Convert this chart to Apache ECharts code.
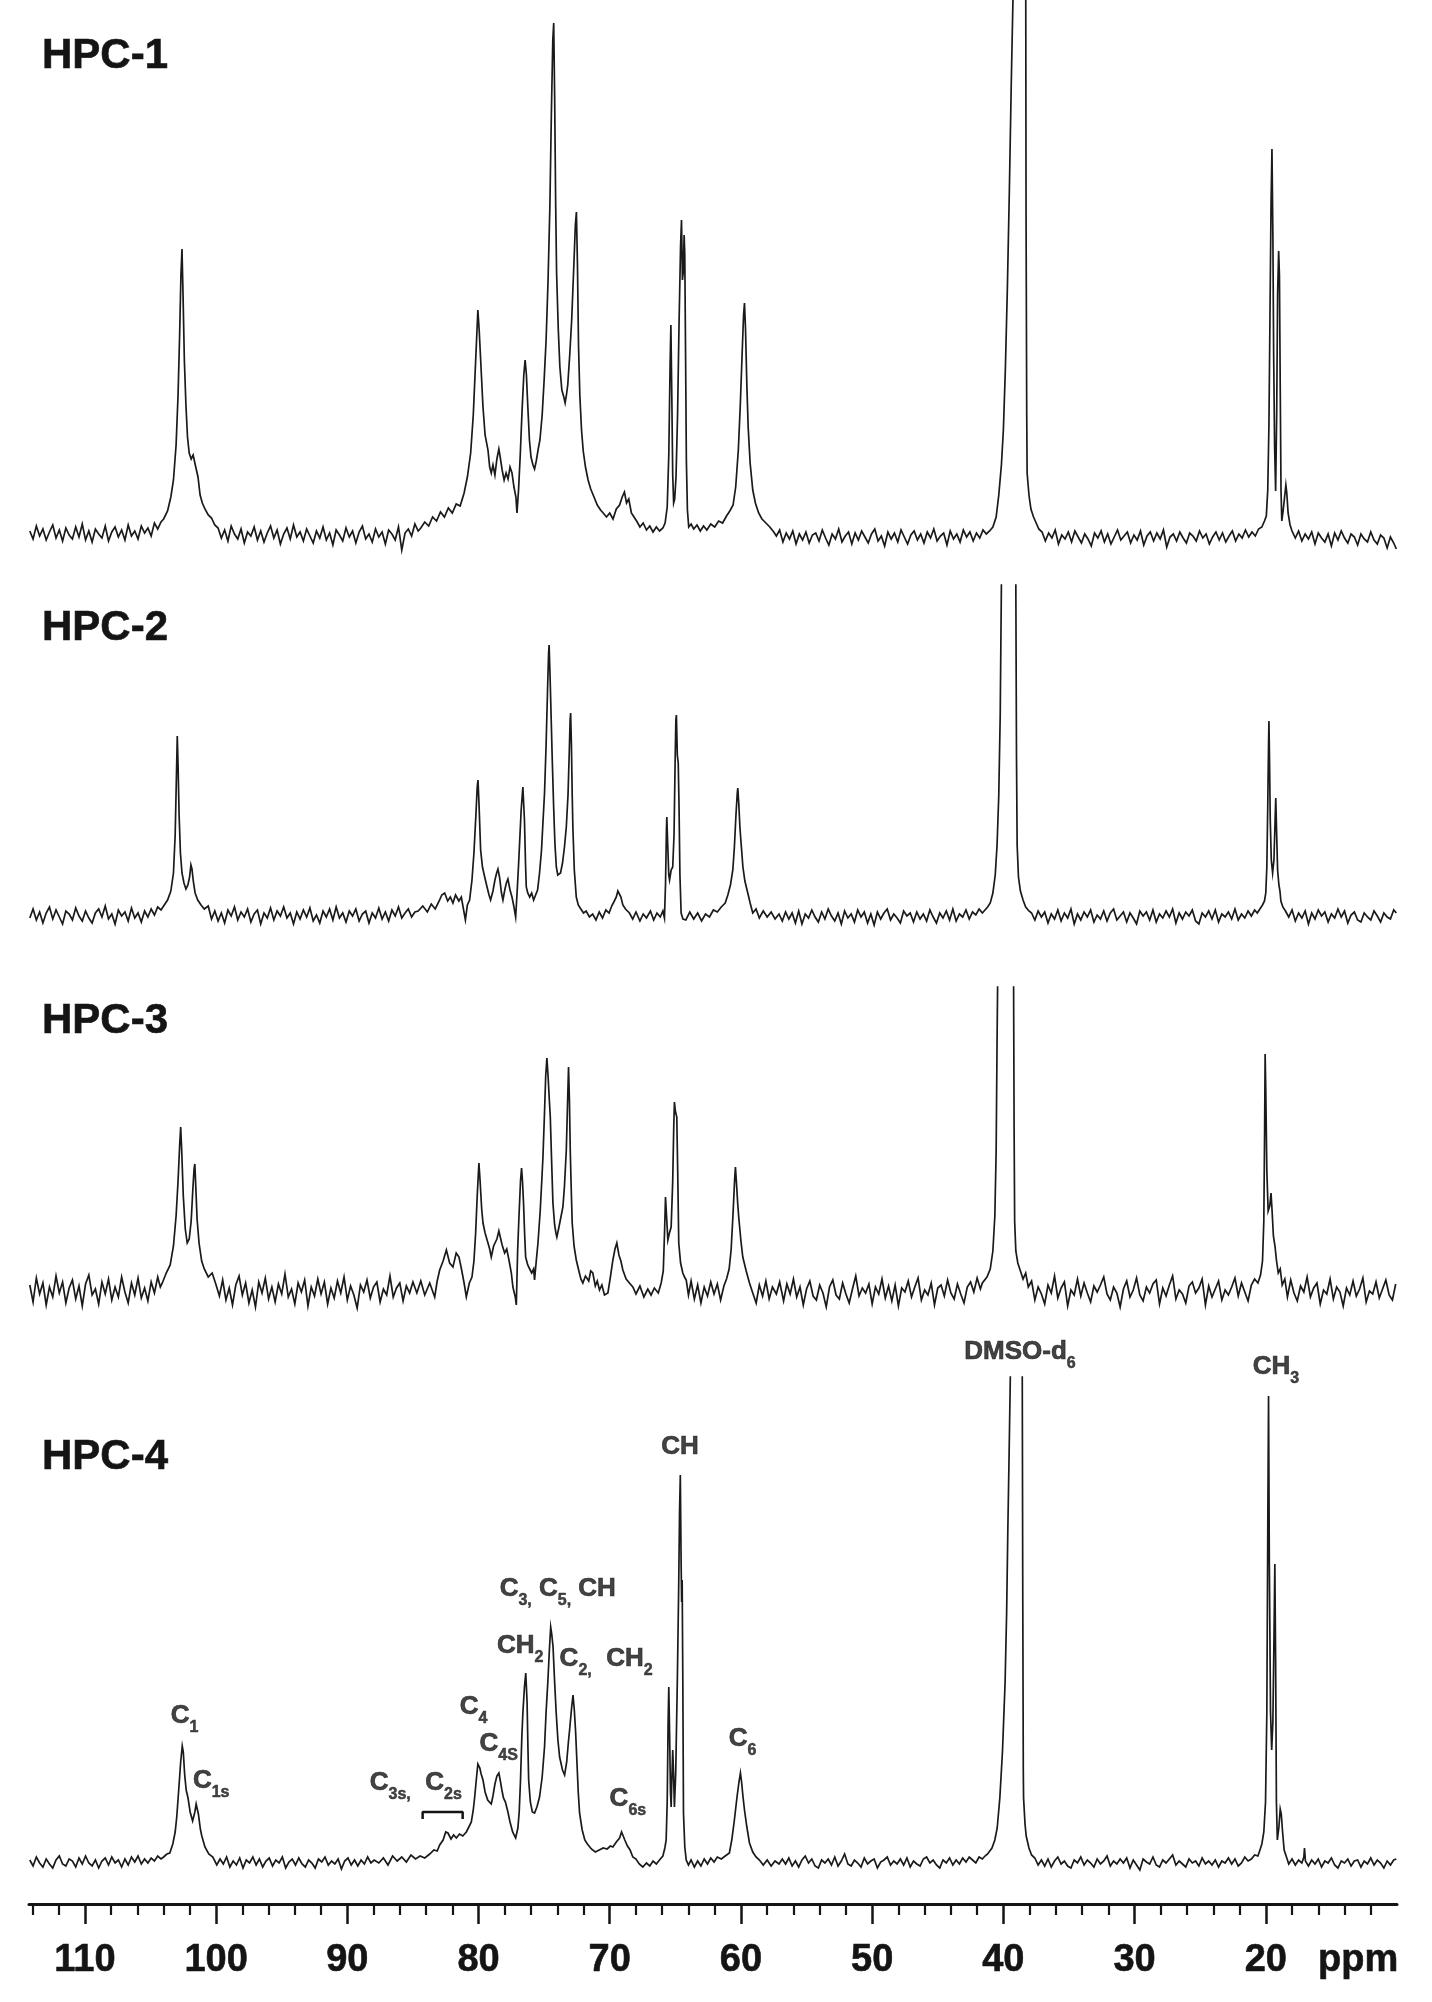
<!DOCTYPE html>
<html><head><meta charset="utf-8">
<script src="https://cdn.jsdelivr.net/npm/echarts@6/dist/echarts.min.js"></script>
<style>html,body{margin:0;padding:0;background:#fff}#c{width:1432px;height:2002px}</style>
</head><body><div id="c"></div>
<script>
// ---------- data ----------
const sampleNames = ['HPC-1', 'HPC-2', 'HPC-3', 'HPC-4'];
const majorTicks = [110, 100, 90, 80, 70, 60, 50, 40, 30, 20];
const minorTicks = [114, 112, 108, 106, 104, 102, 98, 96, 94, 92, 88, 86, 84, 82, 78, 76, 74, 72, 68, 66, 64, 62, 58, 56, 54, 52, 48, 46, 44, 42, 38, 36, 34, 32, 28, 26, 24, 22, 18, 16, 14, 12];

// [ppm, intensity (a.u.)]
const hpc1 = [
[114.2,4],[113.95,-4],[113.7,9],[113.45,-1],[113.2,6],[112.95,-5],[112.7,3],[112.45,10],[112.2,-3],[111.95,5],[111.7,-6],[111.45,7],[111.2,0],[110.95,-4],[110.7,8],[110.45,-2],[110.2,11],[109.95,-5],[109.7,4],[109.45,-7],[109.2,6],[108.95,1],[108.7,-3],[108.45,9],[108.2,-6],[107.95,3],[107.7,8],[107.45,-2],[107.2,5],[106.95,-5],[106.7,10],[106.45,-1],[106.2,4],[105.95,-4],[105.7,9],[105.45,2],[105.2,7],[104.95,-1],[104.7,12],[104.45,6],[104.2,13],
[104.0,16],[103.7,24],[103.45,38],[103.25,55],[103.05,90],[102.9,140],[102.78,200],[102.68,260],[102.6,286],[102.52,240],[102.42,175],[102.3,130],[102.18,98],[102.05,82],[101.9,76],[101.75,80],[101.62,72],[101.5,74],[101.38,58],[101.22,40],[101.05,32],[100.85,26],[100.6,20],[100.35,17],[100.1,10],
[99.85,7],[99.6,-3],[99.35,5],[99.1,-6],[98.85,9],[98.6,1],[98.35,-4],[98.1,6],[97.85,-8],[97.6,3],[97.35,-1],[97.1,8],[96.85,-5],[96.6,4],[96.35,-7],[96.1,2],[95.85,9],[95.6,-3],[95.35,5],[95.1,-9],[94.85,1],[94.6,7],[94.35,-4],[94.1,10],[93.85,-2],[93.6,3],[93.35,-6],[93.1,6],[92.85,-1],[92.6,-8],[92.35,4],[92.1,-3],[91.85,8],[91.6,-5],[91.35,2],[91.1,-10],[90.85,5],[90.6,0],[90.35,-6],[90.1,7],[89.85,-2],[89.6,4],[89.35,-8],[89.1,3],[88.85,9],[88.6,-4],[88.35,1],[88.1,-7],[87.85,6],[87.6,-2],[87.35,3],[87.1,-9],[86.85,5],[86.6,1],[86.35,-5],[86.1,8],[85.85,-15],[85.6,2],[85.35,6],[85.1,-1],[84.85,11],[84.6,4],
[84.4,7],[84.1,13],[83.8,9],[83.5,18],[83.2,14],[82.9,23],[82.6,18],[82.3,27],[82.0,22],[81.7,31],[81.4,29],[81.1,42],[80.85,58],[80.6,82],[80.4,120],[80.2,180],[80.05,225],[79.95,205],[79.8,165],[79.66,128],[79.5,100],[79.28,85],[79.15,68],[79.03,62],[78.9,70],[78.75,60],[78.6,76],[78.45,86],[78.35,78],[78.2,65],[78.05,55],[77.9,62],[77.75,56],[77.6,68],[77.45,62],[77.3,48],[77.15,38],[77.07,22],[76.95,45],[76.82,80],[76.68,125],[76.55,160],[76.45,175],[76.35,160],[76.25,130],[76.12,95],[76.0,78],[75.85,70],[75.73,66],[75.6,74],[75.45,86],[75.32,95],[75.15,120],[75.0,155],[74.85,195],[74.7,255],[74.56,330],[74.45,420],[74.34,495],[74.27,512],[74.2,440],[74.12,330],[74.05,262],[73.92,205],[73.8,168],[73.65,145],[73.5,138],[73.4,132],[73.3,140],[73.2,150],[73.05,180],[72.9,215],[72.75,265],[72.62,310],[72.54,323],[72.46,270],[72.38,190],[72.28,140],[72.15,105],[72.02,84],[71.85,68],[71.65,55],[71.45,46],[71.2,38],[70.95,30],[70.7,25],[70.5,22],[70.25,18],[70.0,22],[69.75,16],[69.5,26],[69.25,30],[69.05,38],[68.88,43],[68.72,32],[68.55,36],[68.35,22],[68.15,18],[67.95,14],[67.7,8],[67.45,12],[67.2,5],[66.95,9],[66.7,3],[66.45,8],[66.2,4],[65.95,7],[65.78,12],[65.62,28],[65.5,80],[65.4,170],[65.34,210],[65.27,140],[65.2,60],[65.13,32],[65.05,36],[64.95,58],[64.83,120],[64.72,210],[64.6,290],[64.53,315],[64.46,255],[64.4,262],[64.33,300],[64.28,280],[64.22,180],[64.16,75],[64.08,25],[63.98,8],[63.8,11],[63.6,6],[63.35,10],[63.1,4],[62.85,9],[62.6,5],[62.3,11],[62.0,8],[61.7,14],[61.4,12],[61.1,19],[60.85,24],[60.6,30],[60.4,48],[60.2,85],[60.05,130],[59.9,185],[59.8,220],[59.73,232],[59.65,205],[59.55,150],[59.45,108],[59.3,72],[59.1,45],[58.9,32],[58.65,22],[58.4,16],[58.1,12],[57.8,8],[57.5,3],
[57.3,-1],[57.05,5],[56.8,-7],[56.55,2],[56.3,-4],[56.05,4],[55.8,-9],[55.55,1],[55.3,-5],[55.05,3],[54.8,-8],[54.55,0],[54.3,2],[54.05,-6],[53.8,5],[53.55,-3],[53.3,-10],[53.05,1],[52.8,-4],[52.55,6],[52.3,-7],[52.05,-1],[51.8,3],[51.55,-9],[51.3,2],[51.05,-5],[50.8,4],[50.55,-2],[50.3,-8],[50.05,1],[49.8,6],[49.55,-6],[49.3,-1],[49.05,-11],[48.8,3],[48.55,-4],[48.3,2],[48.05,-7],[47.8,5],[47.55,-2],[47.3,-9],[47.05,0],[46.8,4],[46.55,-5],[46.3,1],[46.05,-8],[45.8,3],[45.55,-3],[45.3,6],[45.05,-6],[44.8,-1],[44.55,2],[44.3,-10],[44.05,4],[43.8,-4],[43.55,1],[43.3,-7],[43.05,5],[42.8,-2],[42.55,3],[42.3,-6],[42.05,2],[41.8,-3],[41.55,5],[41.3,1],[41.05,4],
[40.8,8],[40.55,18],[40.35,40],[40.15,70],[40.0,105],[39.85,165],[39.7,244],[39.55,340],[39.4,450],[39.27,535],[39.1,750],[38.8,950],[38.5,800],[38.3,600],[38.27,317],[38.22,120],[38.19,62],[38.05,40],[37.9,26],[37.7,18],[37.5,12],[37.3,6],
[37.05,3],[36.8,-6],[36.55,2],[36.3,-3],[36.05,5],[35.8,-9],[35.55,0],[35.3,-4],[35.05,3],[34.8,-7],[34.55,4],[34.3,-2],[34.05,-8],[33.8,1],[33.55,-4],[33.3,-11],[33.05,2],[32.8,-3],[32.55,4],[32.3,-7],[32.05,1],[31.8,-9],[31.55,-2],[31.3,5],[31.05,-5],[30.8,-1],[30.55,3],[30.3,-8],[30.05,0],[29.8,-5],[29.55,4],[29.3,-10],[29.05,-1],[28.8,3],[28.55,-6],[28.3,2],[28.05,-4],[27.8,5],[27.55,-12],[27.3,-2],[27.05,1],[26.8,-6],[26.55,3],[26.3,-3],[26.05,-8],[25.8,2],[25.55,-1],[25.3,-6],[25.05,4],[24.8,-3],[24.55,1],[24.3,-9],[24.05,-2],[23.8,3],[23.55,-5],[23.3,2],[23.05,-7],[22.8,-1],[22.55,4],[22.3,-6],[22.05,1],[21.8,-3],[21.55,5],[21.3,-2],[21.05,3],[20.8,-1],[20.55,6],
[20.3,8],[20.1,14],[19.96,19],[19.85,45],[19.76,110],[19.68,220],[19.6,330],[19.53,386],[19.46,300],[19.4,180],[19.33,90],[19.25,44],[19.17,120],[19.1,240],[19.02,284],[18.96,260],[18.9,150],[18.84,45],[18.78,14],[18.68,24],[18.55,40],[18.47,50],[18.4,42],[18.3,22],[18.15,10],[18.0,4],
[17.75,-3],[17.5,4],[17.25,-6],[17.0,1],[16.75,-4],[16.5,3],[16.25,-9],[16.0,2],[15.75,-3],[15.5,-7],[15.25,1],[15.0,-11],[14.75,2],[14.5,-5],[14.25,4],[14.0,-3],[13.75,-8],[13.5,1],[13.25,-2],[13.0,-10],[12.75,1],[12.5,-4],[12.25,-7],[12.0,3],[11.75,-5],[11.5,-9],[11.25,0],[11.0,-3],[10.75,-13],[10.5,-2],[10.25,-8],[10.05,-14]
];

const hpc2 = [
[114.2,-3],[113.95,6],[113.7,-5],[113.45,3],[113.2,-8],[112.95,2],[112.7,8],[112.45,-4],[112.2,5],[111.95,-2],[111.7,-9],[111.45,4],[111.2,1],[110.95,-5],[110.7,7],[110.45,-1],[110.2,-6],[109.95,4],[109.7,-3],[109.45,-8],[109.2,2],[108.95,6],[108.7,-2],[108.45,9],[108.2,-4],[107.95,1],[107.7,-9],[107.45,5],[107.2,-1],[106.95,3],[106.7,-6],[106.45,7],[106.2,-3],[105.95,2],[105.7,-7],[105.45,4],[105.2,-2],[104.95,6],[104.7,0],[104.45,8],[104.2,5],
[104.0,9],[103.7,15],[103.45,24],[103.25,42],[103.12,80],[103.03,135],[102.96,179],[102.9,150],[102.82,100],[102.72,62],[102.6,42],[102.45,32],[102.3,26],[102.15,30],[102.02,38],[101.92,50],[101.84,46],[101.74,34],[101.6,22],[101.4,15],[101.15,10],[100.9,6],[100.6,9],
[100.35,-4],[100.1,4],[99.85,-6],[99.6,2],[99.35,-8],[99.1,5],[98.85,-1],[98.6,8],[98.35,-5],[98.1,3],[97.85,-2],[97.6,6],[97.35,-7],[97.1,1],[96.85,5],[96.6,-9],[96.35,2],[96.1,-3],[95.85,7],[95.6,-5],[95.35,4],[95.1,-1],[94.85,8],[94.6,-3],[94.35,2],[94.1,-9],[93.85,3],[93.6,-4],[93.35,5],[93.1,-2],[92.85,7],[92.6,-6],[92.35,0],[92.1,-8],[91.85,4],[91.6,-2],[91.35,6],[91.1,-5],[90.85,8],[90.6,-3],[90.35,2],[90.1,-7],[89.85,4],[89.6,-1],[89.35,6],[89.1,-6],[88.85,1],[88.6,4],[88.35,-8],[88.1,2],[87.85,-3],[87.6,7],[87.35,-4],[87.1,3],[86.85,-6],[86.6,5],[86.35,-1],[86.1,8],[85.85,-3],[85.6,2],[85.35,6],[85.1,-2],[84.85,3],
[84.6,4],[84.25,9],[83.9,3],[83.6,11],[83.3,6],[83.0,14],[82.8,20],[82.58,22],[82.35,14],[82.15,18],[81.95,12],[81.75,20],[81.5,14],[81.31,18],[81.15,6],[81.0,-5],[80.85,10],[80.68,15],[80.5,35],[80.35,62],[80.2,100],[80.1,128],[80.04,135],[79.96,110],[79.84,65],[79.7,48],[79.53,38],[79.35,28],[79.2,20],[79.08,15],[78.9,24],[78.75,35],[78.62,42],[78.52,46],[78.4,38],[78.25,22],[78.14,15],[78.0,25],[77.88,32],[77.76,36],[77.6,25],[77.45,18],[77.3,8],[77.17,-2],[77.05,25],[76.95,50],[76.87,72],[76.75,105],[76.62,128],[76.57,130],[76.5,95],[76.42,52],[76.36,28],[76.25,22],[76.1,18],[75.95,22],[75.8,15],[75.65,20],[75.5,25],[75.35,42],[75.2,65],[75.08,95],[74.97,122],[74.85,170],[74.74,225],[74.66,262],[74.62,270],[74.55,240],[74.45,190],[74.38,155],[74.28,110],[74.18,72],[74.07,48],[73.96,40],[73.87,38],[73.75,42],[73.6,52],[73.45,68],[73.31,88],[73.18,120],[73.08,165],[73.02,195],[72.98,202],[72.92,170],[72.86,120],[72.81,88],[72.7,45],[72.55,18],[72.4,10],[72.2,6],[72.0,2],[71.8,4],[71.55,-2],[71.3,1],[71.05,-5],[70.8,3],[70.55,-3],[70.3,5],[70.05,2],[69.85,9],[69.65,14],[69.5,18],[69.38,24],[69.3,23],[69.15,18],[69.0,10],[68.8,6],[68.5,2],[68.25,-4],[68.0,3],[67.7,-6],[67.45,1],[67.2,-3],[66.9,4],[66.65,-5],[66.4,2],[66.15,-2],[65.95,4],[65.83,-3],[65.75,30],[65.68,85],[65.65,98],[65.58,70],[65.5,40],[65.44,35],[65.32,45],[65.2,48],[65.1,80],[65.02,150],[64.96,195],[64.92,200],[64.85,160],[64.78,152],[64.72,110],[64.65,40],[64.56,2],[64.42,-4],[64.2,-5],[63.9,3],[63.6,-4],[63.3,2],[63.0,-6],[62.7,1],[62.4,-2],[62.1,5],[61.8,3],[61.5,8],[61.2,12],[61.0,20],[60.8,30],[60.62,45],[60.5,68],[60.38,100],[60.28,122],[60.24,127],[60.16,110],[60.08,88],[59.99,72],[59.85,48],[59.7,34],[59.48,22],[59.3,12],[59.1,2],[58.85,6],[58.6,-3],[58.3,4],[58.0,-2],[57.7,3],[57.4,-4],[57.1,1],
[56.85,-6],[56.6,3],[56.35,-4],[56.1,2],[55.85,-8],[55.6,4],[55.35,-9],[55.1,1],[54.85,-3],[54.6,5],[54.35,-2],[54.1,-7],[53.85,3],[53.6,-4],[53.35,6],[53.1,-1],[52.85,-6],[52.6,2],[52.35,-9],[52.1,4],[51.85,-3],[51.6,1],[51.35,-7],[51.1,5],[50.85,-2],[50.6,3],[50.35,-8],[50.1,1],[49.85,-10],[49.6,3],[49.35,-4],[49.1,2],[48.85,6],[48.6,-5],[48.35,1],[48.1,-3],[47.85,-8],[47.6,4],[47.35,-1],[47.1,2],[46.85,-7],[46.6,3],[46.35,-4],[46.1,1],[45.85,-6],[45.6,5],[45.35,-2],[45.1,-8],[44.85,2],[44.6,-3],[44.35,4],[44.1,-5],[43.85,6],[43.6,-6],[43.35,1],[43.1,-2],[42.85,5],[42.6,-4],[42.35,3],[42.1,0],[41.85,6],[41.6,2],[41.4,5],
[41.2,8],[41.0,12],[40.8,22],[40.62,40],[40.48,70],[40.35,120],[40.24,200],[40.15,330],[40.0,560],[39.6,800],[39.2,560],[39.05,330],[39.0,160],[38.95,70],[38.85,38],[38.7,24],[38.5,15],[38.3,8],[38.05,4],
[37.85,2],[37.6,-5],[37.35,4],[37.1,-2],[36.85,3],[36.6,-8],[36.35,1],[36.1,-4],[35.85,5],[35.6,-6],[35.35,2],[35.1,-3],[34.85,6],[34.6,-9],[34.35,1],[34.1,-5],[33.85,3],[33.6,-2],[33.35,5],[33.1,-7],[32.85,0],[32.6,-4],[32.35,4],[32.1,-6],[31.85,2],[31.6,6],[31.35,-5],[31.1,-1],[30.85,3],[30.6,-7],[30.35,2],[30.1,-3],[29.85,-9],[29.6,4],[29.35,-1],[29.1,3],[28.85,-5],[28.6,5],[28.35,-7],[28.1,1],[27.85,-3],[27.6,4],[27.35,-2],[27.1,6],[26.85,-8],[26.6,2],[26.35,-4],[26.1,3],[25.85,-1],[25.6,5],[25.35,-6],[25.1,-9],[24.85,2],[24.6,-2],[24.35,4],[24.1,-4],[23.85,5],[23.6,-7],[23.35,1],[23.1,-2],[22.85,3],[22.6,-4],[22.35,6],[22.1,-5],[21.85,1],[21.6,-3],[21.35,4],[21.1,-1],[20.85,5],[20.65,2],
[20.45,6],[20.25,10],[20.1,14],[20.0,22],[19.92,48],[19.85,110],[19.79,170],[19.76,194],[19.72,160],[19.66,95],[19.58,55],[19.48,42],[19.38,55],[19.3,90],[19.24,117],[19.18,85],[19.1,45],[19.0,30],[18.92,24],[18.85,14],[18.7,8],[18.5,4],
[18.25,-2],[18.0,5],[17.75,-6],[17.5,2],[17.25,-3],[17.0,4],[16.75,-9],[16.5,2],[16.25,-4],[16.0,5],[15.75,-1],[15.5,3],[15.25,-7],[15.0,1],[14.75,-3],[14.5,6],[14.25,-2],[14.0,4],[13.75,-8],[13.5,0],[13.25,3],[13.0,-5],[12.75,-7],[12.5,2],[12.25,-2],[12.0,-5],[11.75,4],[11.5,-1],[11.25,-7],[11.0,2],[10.75,-2],[10.5,-4],[10.25,5],[10.05,2]
];

const hpc3 = [
[114.2,6],[113.95,-11],[113.7,13],[113.45,-3],[113.2,8],[112.95,-14],[112.7,4],[112.45,-6],[112.2,15],[111.95,-2],[111.7,9],[111.45,-12],[111.2,3],[110.95,11],[110.7,-8],[110.45,5],[110.2,-15],[109.95,7],[109.7,16],[109.45,-4],[109.2,2],[108.95,-13],[108.7,9],[108.45,-3],[108.2,12],[107.95,-9],[107.7,4],[107.45,-6],[107.2,14],[106.95,-1],[106.7,-12],[106.45,8],[106.2,-4],[105.95,13],[105.7,-7],[105.45,3],[105.2,-10],[104.95,9],[104.7,-2],[104.45,14],[104.25,4],
[104.1,8],[103.8,18],[103.5,26],[103.25,45],[103.05,75],[102.9,110],[102.78,145],[102.7,164],[102.62,140],[102.5,95],[102.35,62],[102.2,48],[102.05,52],[101.9,70],[101.78,100],[101.68,122],[101.62,127],[101.55,105],[101.45,72],[101.3,48],[101.1,30],[100.9,22],[100.6,14],[100.3,18],[100.0,6],
[99.75,-5],[99.5,11],[99.25,-9],[99.0,3],[98.75,-14],[98.5,6],[98.25,15],[98.0,-4],[97.75,8],[97.5,-12],[97.25,1],[97.0,-16],[96.75,9],[96.5,-2],[96.25,13],[96.0,-8],[95.75,4],[95.5,-11],[95.25,7],[95.0,-3],[94.75,17],[94.5,-6],[94.25,2],[94.0,-13],[93.75,8],[93.5,-1],[93.25,11],[93.0,-15],[92.75,4],[92.5,-5],[92.25,12],[92.0,-3],[91.75,9],[91.5,-13],[91.25,3],[91.0,-7],[90.75,10],[90.5,-2],[90.25,14],[90.0,-9],[89.75,5],[89.5,-4],[89.25,-17],[89.0,6],[88.75,-1],[88.5,11],[88.25,-7],[88.0,4],[87.75,9],[87.5,-11],[87.25,2],[87.0,-4],[86.75,15],[86.5,-6],[86.25,3],[86.0,8],[85.75,-10],[85.5,5],[85.25,-2],[85.0,9],
[84.7,-2],[84.4,10],[84.1,-4],[83.72,8],[83.34,-6],[83.15,10],[82.96,21],[82.7,30],[82.45,41],[82.2,28],[81.95,24],[81.7,38],[81.49,34],[81.3,22],[81.1,8],[80.93,-6],[80.7,8],[80.5,14],[80.35,30],[80.22,58],[80.1,95],[79.97,128],[79.88,110],[79.76,82],[79.66,68],[79.5,58],[79.28,48],[79.15,42],[79.03,34],[78.85,45],[78.6,52],[78.45,60],[78.34,58],[78.2,46],[78.01,38],[77.85,42],[77.68,31],[77.5,18],[77.38,4],[77.2,-6],[77.12,-14],[77.02,40],[76.92,74],[76.8,110],[76.72,123],[76.65,110],[76.57,88],[76.48,55],[76.41,34],[76.25,26],[76.11,28],[75.95,18],[75.8,22],[75.73,11],[75.6,30],[75.47,48],[75.3,80],[75.18,110],[75.09,134],[74.98,175],[74.88,215],[74.79,233],[74.7,215],[74.6,190],[74.53,174],[74.43,130],[74.33,88],[74.2,66],[74.1,58],[74.03,54],[73.9,62],[73.75,72],[73.57,84],[73.45,105],[73.31,141],[73.2,195],[73.14,224],[73.07,190],[73.01,141],[72.93,100],[72.86,68],[72.72,45],[72.55,31],[72.35,20],[72.2,12],[72.05,8],[71.85,15],[71.6,10],[71.45,20],[71.29,18],[71.1,5],[70.95,10],[70.78,1],[70.6,6],[70.4,-4],[70.14,-2],[69.95,14],[69.76,31],[69.6,42],[69.46,48],[69.3,36],[69.15,30],[69.0,21],[68.75,12],[68.5,8],[68.24,4],[68.0,-3],[67.7,5],[67.4,-6],[67.1,2],[66.85,-4],[66.6,3],[66.3,-2],[66.08,8],[65.92,20],[65.82,60],[65.75,94],[65.67,75],[65.57,51],[65.45,58],[65.32,64],[65.2,110],[65.12,165],[65.07,189],[65.0,180],[64.89,174],[64.82,120],[64.74,48],[64.6,28],[64.43,18],[64.3,14],[64.17,11],[64.0,-4],[63.8,10],[63.55,-8],[63.3,6],[63.05,-12],[62.8,4],[62.55,-5],[62.3,9],[62.05,-3],[61.8,7],[61.55,-9],[61.3,5],[61.1,12],[60.9,22],[60.75,41],[60.6,78],[60.48,112],[60.42,124],[60.35,110],[60.25,88],[60.17,74],[60.0,50],[59.86,34],[59.6,20],[59.35,8],[59.1,-2],[58.84,-12],[58.6,6],[58.35,-5],[58.1,10],[57.85,-8],[57.6,4],[57.3,-3],[57.05,9],
[56.75,-10],[56.5,7],[56.25,-3],[56.0,12],[55.75,-6],[55.5,4],[55.25,-14],[55.0,2],[54.75,10],[54.5,-5],[54.25,-9],[54.0,6],[53.75,-2],[53.5,-16],[53.25,4],[53.0,11],[52.75,-4],[52.5,-8],[52.25,8],[52.0,-3],[51.75,-12],[51.5,2],[51.25,15],[51.0,-5],[50.75,3],[50.5,-2],[50.25,7],[50.0,-13],[49.75,4],[49.5,-3],[49.25,12],[49.0,-7],[48.75,5],[48.5,-10],[48.25,6],[48.0,-15],[47.75,3],[47.5,-1],[47.25,10],[47.0,-6],[46.75,4],[46.5,13],[46.25,-9],[46.0,1],[45.75,-4],[45.5,8],[45.25,-14],[45.0,3],[44.75,6],[44.5,-5],[44.25,11],[44.0,-2],[43.75,-8],[43.5,7],[43.25,-3],[43.0,-12],[42.75,4],[42.5,9],[42.25,-1],[42.0,13],[41.75,2],[41.6,8],
[41.5,6],[41.25,14],[41.0,22],[40.8,40],[40.65,75],[40.55,140],[40.48,250],[40.44,304],[40.3,500],[39.8,700],[39.4,500],[39.22,304],[39.18,160],[39.14,70],[39.05,40],[38.9,28],[38.7,20],[38.5,12],[38.3,18],[38.1,4],
[37.85,10],[37.6,-9],[37.35,4],[37.1,-3],[36.85,-13],[36.6,6],[36.35,-2],[36.1,15],[35.85,-7],[35.6,3],[35.35,9],[35.1,-15],[34.85,1],[34.6,-4],[34.35,12],[34.1,-5],[33.85,8],[33.6,-2],[33.35,-11],[33.1,5],[32.85,-1],[32.6,6],[32.35,14],[32.1,-3],[31.85,-9],[31.6,4],[31.35,-2],[31.1,-16],[30.85,2],[30.6,10],[30.35,-6],[30.1,1],[29.85,13],[29.6,-4],[29.35,-10],[29.1,4],[28.85,-2],[28.6,7],[28.35,11],[28.1,-13],[27.85,3],[27.6,-5],[27.35,6],[27.1,15],[26.85,-8],[26.6,1],[26.35,-3],[26.1,-12],[25.85,5],[25.6,9],[25.35,-2],[25.1,3],[24.85,12],[24.6,-14],[24.35,5],[24.1,-6],[23.85,2],[23.6,10],[23.35,-9],[23.1,1],[22.85,-4],[22.6,4],[22.35,13],[22.1,-5],[21.85,8],[21.6,-1],[21.35,-10],[21.1,6],[20.85,12],
[20.6,8],[20.4,16],[20.25,30],[20.15,70],[20.09,160],[20.05,237],[20.0,200],[19.92,120],[19.82,80],[19.7,85],[19.6,98],[19.52,80],[19.42,55],[19.3,45],[19.18,30],[19.05,18],[18.9,22],[18.75,6],[18.55,12],
[18.35,-6],[18.1,11],[17.85,-2],[17.6,-10],[17.35,5],[17.1,-1],[16.85,14],[16.6,-6],[16.35,3],[16.1,8],[15.85,-13],[15.6,1],[15.35,-3],[15.1,12],[14.85,-8],[14.6,4],[14.35,-1],[14.1,-15],[13.85,3],[13.6,-4],[13.35,10],[13.1,-5],[12.85,2],[12.6,13],[12.35,-11],[12.1,0],[11.85,-3],[11.6,9],[11.35,-7],[11.1,2],[10.85,11],[10.6,-4],[10.35,-9],[10.1,7]
];

const hpc4 = [
[114.2,2],[113.95,-4],[113.7,5],[113.45,-1],[113.2,-5],[112.95,3],[112.7,-2],[112.45,-6],[112.2,2],[111.95,6],[111.7,-2],[111.45,-4],[111.2,3],[110.95,1],[110.7,-5],[110.45,4],[110.2,-2],[109.95,6],[109.7,-1],[109.45,-4],[109.2,2],[108.95,-6],[108.7,1],[108.45,4],[108.2,-3],[107.95,5],[107.7,-1],[107.45,2],[107.2,-5],[106.95,3],[106.7,-3],[106.45,5],[106.2,0],[105.95,6],[105.7,-2],[105.45,3],[105.2,-1],[104.95,4],[104.7,1],[104.45,6],[104.2,3],[104.0,5],
[103.75,8],[103.53,9],[103.3,18],[103.12,30],[103.0,45],[102.85,72],[102.7,100],[102.58,116],[102.5,110],[102.4,88],[102.28,72],[102.14,64],[101.98,50],[101.79,41],[101.62,50],[101.52,58],[101.44,59],[101.35,48],[101.2,33],[101.09,26],[100.85,15],[100.56,8],[100.25,5],
[99.95,-3],[99.7,3],[99.45,-2],[99.2,5],[98.95,-5],[98.7,1],[98.45,-3],[98.2,4],[97.95,-6],[97.7,2],[97.45,-1],[97.2,5],[96.95,-3],[96.7,3],[96.45,-5],[96.2,1],[95.95,4],[95.7,-4],[95.45,2],[95.2,-1],[94.95,5],[94.7,-6],[94.45,0],[94.2,3],[93.95,-3],[93.7,4],[93.45,-2],[93.2,-5],[92.95,2],[92.7,-1],[92.45,-6],[92.2,3],[91.95,0],[91.7,5],[91.45,-3],[91.2,1],[90.95,-2],[90.7,3],[90.45,-7],[90.2,1],[89.95,4],[89.7,-3],[89.45,2],[89.2,-4],[88.95,2],[88.7,-2],[88.45,5],[88.2,-1],[87.95,2],
[87.6,-1],[87.25,4],[86.9,-3],[86.55,6],[86.2,1],[85.85,5],[85.5,0],[85.15,7],[84.8,3],[84.45,6],[84.1,4],[83.72,8],[83.4,12],[83.15,11],[82.96,17],[82.7,22],[82.5,30],[82.33,29],[82.1,23],[81.9,27],[81.69,24],[81.45,28],[81.2,26],[80.93,30],[80.7,36],[80.55,40],[80.4,52],[80.3,64],[80.15,85],[80.05,98],[79.99,100],[79.9,94],[79.8,88],[79.66,82],[79.5,70],[79.3,62],[79.15,60],[79.03,58],[78.9,66],[78.75,78],[78.6,86],[78.45,89],[78.35,82],[78.22,72],[78.1,64],[77.95,60],[77.76,50],[77.6,40],[77.4,30],[77.17,24],[77.0,34],[76.9,50],[76.8,82],[76.7,125],[76.62,149],[76.5,175],[76.4,189],[76.3,160],[76.23,112],[76.18,82],[76.05,60],[75.9,50],[75.73,49],[75.55,55],[75.35,65],[75.15,85],[74.97,115],[74.85,150],[74.71,182],[74.6,212],[74.5,235],[74.42,228],[74.32,215],[74.2,180],[74.08,149],[73.95,122],[73.82,105],[73.6,92],[73.44,87],[73.28,100],[73.15,120],[73.06,132],[72.9,155],[72.8,167],[72.7,152],[72.6,130],[72.5,100],[72.4,70],[72.3,49],[72.1,32],[71.9,22],[71.7,18],[71.4,13],[71.1,10],[70.8,12],[70.5,14],[70.2,13],[69.95,16],[69.76,15],[69.5,20],[69.25,24],[69.1,30],[69.0,28],[68.85,22],[68.65,16],[68.45,12],[68.24,5],[68.0,3],[67.75,-2],[67.48,-5],[67.2,-1],[66.95,-4],[66.7,1],[66.45,-2],[66.21,2],[65.95,6],[65.8,14],[65.7,22],[65.62,60],[65.55,140],[65.5,175],[65.44,130],[65.37,70],[65.32,55],[65.26,85],[65.2,112],[65.14,90],[65.07,55],[64.97,90],[64.85,180],[64.75,270],[64.68,350],[64.62,387],[64.56,300],[64.52,260],[64.48,282],[64.43,180],[64.38,49],[64.28,15],[64.17,2],[64.0,-3],[63.8,2],[63.55,-5],[63.3,1],[63.05,-4],[62.8,3],[62.55,-2],[62.3,4],[62.05,0],[61.8,5],[61.5,3],[61.2,6],[60.88,9],[60.7,22],[60.5,42],[60.3,65],[60.15,80],[60.04,89],[59.95,80],[59.85,66],[59.73,52],[59.55,35],[59.35,19],[59.1,10],[58.85,5],[58.59,2],[58.3,-3],[58.0,2],[57.7,-4],[57.4,1],[57.1,-2],
[56.85,3],[56.6,-2],[56.35,4],[56.1,-4],[55.85,1],[55.6,-5],[55.35,2],[55.1,6],[54.85,-1],[54.6,3],[54.35,-4],[54.1,-6],[53.85,2],[53.6,-1],[53.35,3],[53.1,-3],[52.85,5],[52.6,-4],[52.35,1],[52.1,8],[51.85,-2],[51.6,-4],[51.35,2],[51.1,-1],[50.85,-5],[50.6,4],[50.35,-2],[50.1,1],[49.85,3],[49.6,-6],[49.35,0],[49.1,2],[48.85,5],[48.6,-3],[48.35,1],[48.1,-2],[47.85,3],[47.6,-3],[47.35,4],[47.1,-5],[46.85,1],[46.6,-2],[46.35,-4],[46.1,3],[45.85,5],[45.6,-1],[45.35,2],[45.1,-3],[44.85,-6],[44.6,2],[44.35,-1],[44.1,4],[43.85,-3],[43.6,2],[43.35,-2],[43.1,4],[42.85,0],[42.6,5],[42.35,2],[42.1,-1],[41.85,5],[41.6,3],[41.4,6],
[41.2,8],[40.87,14],[40.65,22],[40.47,34],[40.27,64],[40.07,110],[39.87,179],[39.75,250],[39.66,332],[39.56,410],[39.47,485],[39.2,700],[38.9,800],[38.65,640],[38.56,485],[38.52,260],[38.48,90],[38.46,64],[38.35,38],[38.26,26],[38.05,14],[37.85,7],[37.6,4],
[37.35,-3],[37.1,2],[36.85,-4],[36.6,3],[36.35,-5],[36.1,1],[35.85,5],[35.6,-2],[35.35,1],[35.1,-4],[34.85,-6],[34.6,2],[34.35,-1],[34.1,5],[33.85,-3],[33.6,2],[33.35,-1],[33.1,-5],[32.85,3],[32.6,-2],[32.35,1],[32.1,6],[31.85,-4],[31.6,1],[31.35,-2],[31.1,3],[30.85,-1],[30.6,4],[30.35,-6],[30.1,2],[29.85,-3],[29.6,-8],[29.35,3],[29.1,0],[28.85,-2],[28.6,5],[28.35,-3],[28.1,-5],[27.85,2],[27.6,-1],[27.35,3],[27.1,7],[26.85,-3],[26.6,1],[26.35,-2],[26.1,-5],[25.85,3],[25.6,-1],[25.35,1],[25.1,-4],[24.85,4],[24.6,-2],[24.35,1],[24.1,-3],[23.85,2],[23.6,-5],[23.35,1],[23.1,-1],[22.85,4],[22.6,-2],[22.35,3],[22.1,-4],[21.85,-1],[21.6,5],[21.35,1],[21.1,3],[20.85,7],
[20.6,6],[20.47,11],[20.3,18],[20.15,30],[20.02,60],[19.92,150],[19.85,330],[19.79,466],[19.73,300],[19.64,150],[19.55,112],[19.46,140],[19.38,220],[19.31,298],[19.25,200],[19.19,60],[19.12,22],[19.0,35],[18.9,53],[18.82,48],[18.72,30],[18.6,12],[18.45,6],
[18.25,-2],[18.0,3],[17.75,-3],[17.5,2],[17.25,-1],[17.1,5],[17.05,14],[16.98,1],[16.75,-4],[16.5,2],[16.25,-2],[16.0,3],[15.75,-5],[15.5,1],[15.25,-1],[15.0,4],[14.75,-3],[14.5,-6],[14.25,1],[14.0,-1],[13.75,3],[13.5,-4],[13.25,1],[13.0,2],[12.75,-5],[12.5,1],[12.25,-2],[12.0,4],[11.75,-3],[11.5,2],[11.25,-1],[11.0,-6],[10.75,1],[10.5,-3],[10.25,2],[10.05,3]
];

// peak assignments on HPC-4: [ppm, intensity] anchor of each label
const peakLabels = [
  { text: '{m|C}{s|1}', at: [103.45, 146] },
  { text: '{m|C}{s|1s}', at: [101.77, 81] },
  { text: '{m|C}{s|3s,}{m|  C}{s|2s}', at: [88.29, 79] },
  { text: '{m|C}{s|4}', at: [81.44, 155] },
  { text: '{m|C}{s|4S}', at: [79.92, 118] },
  { text: '{m|CH}{s|2}', at: [78.60, 216] },
  { text: '{m|C}{s|3,}{m| C}{s|5,}{m| CH}', at: [78.39, 273] },
  { text: '{m|C}{s|2,}{m|  CH}{s|2}', at: [73.82, 203] },
  { text: '{m|C}{s|6s}', at: [70.01, 63] },
  { text: '{m|CH}', at: [66.08, 415] },
  { text: '{m|C}{s|6}', at: [60.93, 123] },
  { text: '{m|DMSO-d}{s|6}', at: [42.98, 510] },
  { text: '{m|CH}{s|3}', at: [21.0, 495] }
];
const bracketC3sC2s = [[84.26, 43], [84.26, 50], [81.21, 50], [81.21, 43]];

// ---------- chart ----------
const FONT = "'Liberation Sans', Arial, Helvetica, sans-serif";
const INK = '#141414';
const spectra = [hpc1, hpc2, hpc3, hpc4];
// layout of the four stacked panels (px)
const panels = [
  { top: 0, height: 575, yMax: 535, yMin: -40, titleY: 56 },
  { top: 585, height: 370, yMax: 330, yMin: -40, titleY: 628 },
  { top: 987, height: 344, yMax: 304, yMin: -40, titleY: 1021 },
  { top: 1377, height: 527, yMax: 485, yMin: -42, titleY: 1457 }
];
const X_MIN = 10, X_MAX = 114.26;

const grids = panels.map(p => ({ left: 29, right: 35, top: p.top, height: p.height, containLabel: false }));
const xAxes = panels.map((p, i) => ({
  type: 'value', gridIndex: i, min: X_MIN, max: X_MAX, inverse: true,
  show: i === 3, position: 'bottom',
  axisLine: { show: true, onZero: false, lineStyle: { color: INK, width: 3 } },
  axisTick: { show: true, customValues: majorTicks, length: 20, lineStyle: { color: INK, width: 2.5 } },
  axisLabel: { show: true, customValues: majorTicks, margin: 57, verticalAlign: 'middle',
    fontFamily: FONT, fontWeight: 'bold', fontSize: 38, color: INK, textBorderColor: INK, textBorderWidth: 0.6 },
  splitLine: { show: false }
}));
xAxes.push({
  type: 'value', gridIndex: 3, min: X_MIN, max: X_MAX, inverse: true, position: 'bottom', offset: 0,
  axisLine: { show: false, onZero: false },
  axisTick: { show: true, customValues: minorTicks, length: 11, lineStyle: { color: INK, width: 2.2 } },
  axisLabel: { show: false }, splitLine: { show: false }
});
const yAxes = panels.map((p, i) => ({ type: 'value', gridIndex: i, min: p.yMin, max: p.yMax, show: false, splitLine: { show: false } }));

const series = spectra.map((d, i) => ({
  type: 'line', name: sampleNames[i], xAxisIndex: i, yAxisIndex: i, data: d,
  symbol: 'none', showSymbol: false, clip: true, animation: false,
  lineStyle: { color: '#1a1a1a', width: 1.7, join: 'miter' }
}));
series.push({
  type: 'line', xAxisIndex: 3, yAxisIndex: 3, data: bracketC3sC2s, symbol: 'none', clip: false,
  lineStyle: { color: INK, width: 2.5 }, animation: false
});
series.push({
  type: 'scatter', xAxisIndex: 3, yAxisIndex: 3, symbol: 'circle', symbolSize: 1, clip: false, silent: true, animation: false,
  itemStyle: { color: 'rgba(0,0,0,0)' },
  data: peakLabels.map(p => ({ value: p.at, label: { formatter: p.text } })),
  label: {
    show: true, position: 'inside', align: 'left', verticalAlign: 'middle', color: INK,
    rich: {
      m: { fontFamily: FONT, fontWeight: 'bold', fontSize: 26, lineHeight: 40, color: INK, textBorderColor: INK, textBorderWidth: 0.7 },
      s: { fontFamily: FONT, fontWeight: 'bold', fontSize: 16, lineHeight: 14, verticalAlign: 'bottom', color: INK, textBorderColor: INK, textBorderWidth: 0.5 }
    }
  },
  labelLayout: { hideOverlap: false },
  z: 10
});

const graphic = panels.map((p, i) => ({
  type: 'text', x: 42, y: p.titleY, silent: true,
  style: { text: sampleNames[i], fill: INK, stroke: INK, lineWidth: 0.6, font: `bold 42px ${FONT}`, align: 'left', verticalAlign: 'middle' }
}));
graphic.push({
  type: 'text', x: 1318, y: 1961, silent: true,
  style: { text: 'ppm', fill: INK, stroke: INK, lineWidth: 0.6, font: `bold 38px ${FONT}`, align: 'left', verticalAlign: 'middle' }
});

const chart = echarts.init(document.getElementById('c'), null, { renderer: 'canvas' });
chart.setOption({
  animation: false, backgroundColor: '#fff',
  grid: grids, xAxis: xAxes, yAxis: yAxes, series: series, graphic: graphic
});
</script></body></html>
